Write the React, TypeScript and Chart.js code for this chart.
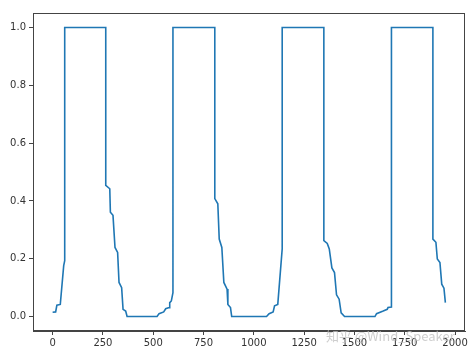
import React, { useEffect, useRef } from "react";
import { Chart, registerables } from "chart.js";

Chart.register(...registerables);

const xValues = [
  0, 15, 21, 38, 55, 60, 60, 264, 264, 284, 287, 300, 310, 323, 330, 343, 350, 363, 370,
  519, 529, 552, 562, 579, 582, 590, 598, 598, 806, 806, 821, 828, 841, 851, 867, 871, 884, 890,
  1063, 1076, 1096, 1103, 1119, 1141, 1141, 1348, 1348, 1365, 1375, 1388, 1401, 1411, 1424, 1434, 1451,
  1602, 1610, 1643, 1663, 1667, 1684, 1684, 1890, 1890, 1905, 1912, 1925, 1934, 1945, 1952,
];
const yValues = [
  0.015, 0.016, 0.039, 0.042, 0.176, 0.193, 1, 1, 0.454, 0.442, 0.361, 0.35, 0.239, 0.222, 0.118, 0.1, 0.025, 0.019, 0,
  0, 0.01, 0.016, 0.027, 0.031, 0.048, 0.054, 0.083, 1, 1, 0.408, 0.39, 0.268, 0.239, 0.118, 0.095, 0.042, 0.031, 0,
  0, 0.01, 0.016, 0.037, 0.042, 0.234, 1, 1, 0.263, 0.253, 0.234, 0.168, 0.152, 0.075, 0.06, 0.013, 0,
  0, 0.01, 0.019, 0.025, 0.031, 0.033, 1, 1, 0.268, 0.257, 0.199, 0.187, 0.112, 0.098, 0.048,
];
const xTicks = [0, 250, 500, 750, 1000, 1250, 1500, 1750, 2000];
const yTicks = [0, 0.2, 0.4, 0.6, 0.8, 1.0];
const watermark = "知乎 @Wind_Speaker";

const boxPlugin = {
  id: "box",
  afterDraw(chart: any) {
    const { ctx, chartArea } = chart;
    ctx.save();
    ctx.strokeStyle = "#444";
    ctx.lineWidth = 1;
    ctx.strokeRect(
      Math.round(chartArea.left) + 0.5,
      Math.round(chartArea.top) + 0.5,
      Math.round(chartArea.right - chartArea.left) - 1,
      Math.round(chartArea.bottom - chartArea.top) - 1
    );
    ctx.font = "13px 'Noto Sans CJK SC', sans-serif";
    ctx.fillStyle = "rgba(190,190,190,0.75)";
    ctx.textAlign = "left";
    ctx.textBaseline = "middle";
    ctx.fillText(watermark, 326, 336);
    ctx.restore();
  },
};

export default function App() {
  const ref = useRef<HTMLCanvasElement | null>(null);
  useEffect(() => {
    if (!ref.current) return;
    const data = xValues.map((x, i) => ({ x, y: yValues[i] }));
    const tickFont = { family: "'DejaVu Sans', sans-serif", size: 10 };
    const chart = new Chart(ref.current, {
      type: "line",
      data: {
        datasets: [
          {
            data,
            borderColor: "#1f77b4",
            borderWidth: 1.6,
            pointRadius: 0,
            fill: false,
            tension: 0,
          },
        ],
      },
      options: {
        animation: false,
        responsive: false,
        maintainAspectRatio: false,
        parsing: false as any,
        layout: { padding: { top: 13, right: 9, left: 0, bottom: 0 } },
        plugins: { legend: { display: false }, tooltip: { enabled: false } },
        scales: {
          x: {
            type: "linear",
            min: -97.6,
            max: 2049.6,
            afterFit: (s: any) => {
              s.height = 25;
            },
            afterBuildTicks: (s: any) => {
              s.ticks = xTicks.map((v) => ({ value: v }));
            },
            grid: { drawOnChartArea: false, drawTicks: true, tickLength: 4, color: "#444" },
            border: { display: true, color: "#444", width: 1 },
            ticks: {
              color: "#333",
              font: tickFont,
              padding: 2,
              maxRotation: 0,
              autoSkip: false,
              callback: (v: any) => String(v),
            },
          },
          y: {
            type: "linear",
            min: -0.05,
            max: 1.05,
            afterFit: (s: any) => {
              s.width = 33;
            },
            afterBuildTicks: (s: any) => {
              s.ticks = yTicks.map((v) => ({ value: v }));
            },
            grid: { drawOnChartArea: false, drawTicks: true, tickLength: 4, color: "#444" },
            border: { display: true, color: "#444", width: 1 },
            ticks: {
              color: "#333",
              font: tickFont,
              padding: 3,
              autoSkip: false,
              callback: (v: any) => Number(v).toFixed(1),
            },
          },
        },
      },
      plugins: [boxPlugin],
    });
    return () => chart.destroy();
  }, []);
  return (
    <div style={{ position: "absolute", left: 0, top: 0, width: 474, height: 356, background: "#fff" }}>
      <canvas ref={ref} width={474} height={356} style={{ width: 474, height: 356, display: "block" }} />
    </div>
  );
}
